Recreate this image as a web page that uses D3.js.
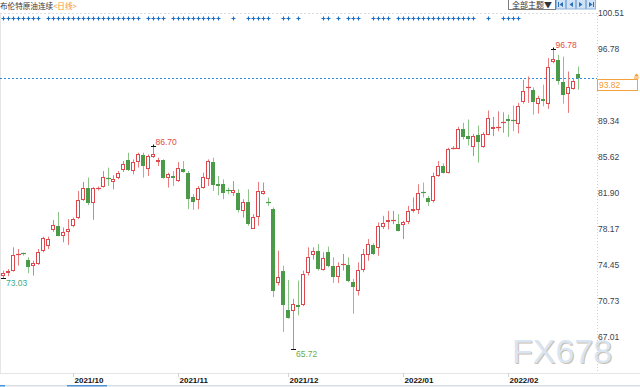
<!DOCTYPE html>
<html>
<head>
<meta charset="utf-8">
<script src="https://cdn.jsdelivr.net/npm/d3@7"></script>
<style>
  body { margin: 0; background: #fff; }
  svg { display: block; font-family: "Liberation Sans", Arial, sans-serif; }
</style>
</head>
<body>
<svg id="chart" width="640" height="387"></svg>
<script>
// daily candles, Brent continuous
const opens = [
  73.26, 73.57, 73.84, 75.43, 75.63, 74.98, 74.32, 74.50, 75.84, 76.42,
  78.04, 78.48, 77.45, 77.79, 78.42, 79.24, 81.20, 82.44, 80.89, 82.26,
  82.54, 83.40, 83.06, 83.47, 84.22, 85.25, 84.15, 85.08, 85.80, 84.40,
  85.63, 85.08, 85.25, 83.47, 83.64, 83.12, 84.32, 83.98, 81.51, 81.16,
  82.44, 83.36, 85.08, 82.78, 82.78, 82.16, 81.92, 81.92, 80.03, 80.95,
  78.20, 79.41, 81.82, 80.95, 80.27, 72.57, 73.84, 69.72, 69.65, 70.23,
  70.23, 73.57, 75.46, 75.84, 73.95, 75.80, 74.29, 73.22, 74.48, 74.43,
  72.71, 71.78, 73.95, 75.46, 76.49, 76.15, 78.31, 78.89, 79.05, 78.65,
  78.55, 78.83, 80.00, 80.13, 81.94, 81.37, 81.06, 83.64, 84.71, 83.98,
  86.50, 86.46, 88.52, 87.76, 86.66, 87.83, 86.66, 87.93, 88.45, 88.71,
  89.18, 89.55, 89.40, 89.03, 91.26, 92.83, 92.50, 91.10, 91.61, 91.10,
  95.39, 95.66, 93.37, 92.13, 92.64, 94.22
];
const highs = [
  73.84, 74.00, 76.25, 76.08, 75.70, 75.22, 74.87, 76.08, 77.35, 77.35,
  79.07, 79.92, 78.31, 79.17, 79.34, 82.09, 83.02, 83.47, 82.50, 82.55,
  84.15, 84.50, 83.71, 84.15, 85.18, 86.05, 85.36, 86.05, 86.05, 85.87,
  86.70, 85.53, 85.36, 83.98, 84.15, 85.08, 85.18, 84.15, 81.75, 82.60,
  83.98, 85.36, 85.53, 83.64, 83.29, 82.44, 83.12, 82.26, 81.23, 82.26,
  79.69, 83.02, 82.95, 81.41, 80.38, 75.90, 74.36, 72.88, 70.92, 72.81,
  73.84, 76.25, 76.25, 76.59, 75.74, 76.32, 75.22, 74.70, 75.56, 75.22,
  72.98, 74.70, 76.08, 77.11, 76.66, 78.83, 79.51, 80.03, 80.03, 79.69,
  79.00, 80.54, 81.41, 82.78, 82.95, 81.57, 83.98, 85.18, 84.94, 86.56,
  86.73, 88.73, 89.14, 89.48, 88.00, 88.86, 88.17, 90.41, 89.76, 90.33,
  90.23, 90.00, 90.92, 91.20, 93.60, 93.94, 92.81, 91.95, 93.09, 95.84,
  96.78, 96.18, 96.00, 94.46, 93.78, 94.97
];
const lows = [
  73.03, 73.26, 73.74, 74.36, 75.40, 73.57, 73.33, 74.43, 75.74, 76.08,
  77.86, 77.38, 76.77, 76.49, 78.31, 79.17, 81.06, 80.61, 79.10, 82.15,
  82.44, 82.60, 82.26, 83.29, 84.05, 84.15, 83.81, 84.50, 83.47, 83.64,
  85.50, 84.67, 83.37, 82.44, 82.60, 83.02, 83.98, 80.20, 80.13, 80.20,
  82.33, 82.60, 82.09, 81.64, 81.23, 81.75, 81.57, 79.86, 79.34, 78.48,
  78.14, 78.48, 81.70, 80.54, 71.10, 72.30, 67.49, 68.86, 65.72, 69.20,
  70.17, 73.33, 74.98, 73.84, 73.84, 74.19, 72.57, 72.55, 73.84, 72.64,
  69.38, 71.26, 73.67, 74.87, 75.46, 75.39, 78.14, 78.10, 78.65, 77.90,
  77.11, 78.65, 79.86, 79.69, 81.41, 80.54, 80.89, 83.55, 83.90, 83.90,
  86.39, 86.39, 87.42, 86.80, 85.70, 85.02, 86.56, 87.85, 87.76, 88.27,
  88.11, 87.69, 88.27, 88.04, 91.13, 91.20, 89.99, 90.10, 90.85, 90.58,
  95.30, 93.09, 91.13, 90.17, 92.57, 92.57
];
const closes = [
  73.57, 73.78, 75.46, 75.56, 75.55, 74.19, 74.60, 75.74, 77.18, 77.11,
  78.52, 77.38, 77.79, 78.20, 79.14, 81.20, 82.44, 80.82, 82.37, 82.44,
  83.57, 83.34, 83.29, 83.98, 84.84, 84.22, 85.08, 85.87, 84.67, 85.70,
  85.87, 85.29, 83.47, 83.81, 83.47, 84.50, 84.08, 81.30, 80.95, 82.44,
  83.57, 85.18, 82.67, 82.60, 81.92, 82.10, 82.16, 80.10, 80.95, 78.65,
  79.34, 82.09, 82.09, 80.89, 71.78, 73.16, 70.23, 68.93, 70.41, 70.06,
  73.50, 75.22, 75.84, 74.02, 75.15, 74.29, 73.22, 74.29, 74.52, 72.81,
  72.13, 73.91, 75.53, 76.56, 75.53, 78.48, 78.76, 79.10, 79.09, 77.96,
  78.83, 80.03, 80.17, 81.92, 81.90, 80.95, 83.64, 84.67, 83.98, 86.39,
  86.54, 88.52, 87.65, 87.42, 87.76, 87.14, 88.00, 89.65, 88.73, 88.75,
  89.22, 89.30, 89.36, 90.92, 92.40, 92.87, 91.26, 91.72, 91.37, 94.97,
  95.74, 93.43, 91.98, 92.81, 93.50, 93.82
];
// candles that carry a news/event flag in the top strip
const eventIdx = [
  0, 1, 2, 3, 4, 5, 6, 7,
  9, 10, 11, 12, 13, 14, 15, 16, 17, 18, 19, 20, 21, 22, 23, 24, 25, 26, 27,
  29, 30, 31, 32,
  34, 35, 36, 37, 38, 39, 40, 41, 42, 43,
  46, 49, 50, 51, 52, 53, 56, 57, 59, 64, 65, 67, 69, 70, 71,
  74, 75, 76, 77,
  79, 80, 81, 82, 83, 84, 85, 86, 87, 88, 89, 90, 91, 92, 93, 94,
  97, 100, 101, 102, 103
];
const yTicks = [100.51, 96.78, 93.06, 89.34, 85.62, 81.90, 78.17, 74.45, 70.73, 67.01];
const highMarks = [30, 110];
const lowMarks = [0, 58];
const lastPrice = closes[closes.length - 1];
const startDay = new Date(2021, 8, 13);

const n = closes.length;
const dates = [];
for (let d = new Date(startDay); dates.length < n; d.setDate(d.getDate() + 1)) {
  if (d.getDay() !== 0 && d.getDay() !== 6) dates.push(new Date(d));
}
const monthStarts = d3.range(1, n).filter(i => dates[i].getMonth() !== dates[i - 1].getMonth());
const fmtMonth = d3.timeFormat("%Y/%m");

const svg = d3.select("#chart");
const axisX = 597, plotBottom = 373;

const x = d3.scaleBand().domain(d3.range(n)).range([0.5, 580.5]);
const y = d3.scaleLinear().domain([67.01, 100.51]).range([336.6, 13]);
const cx = i => x(i) + 3;

const RED = "#e0474c", RED_WICK = "#e87c7c";
const GREEN = "#4a9a48", GREEN_WICK = "#8cc389";

// title + toolbar
const title = svg.append("text").attr("x", 0).attr("y", 8.5)
  .style("font-family", "'Noto Sans CJK SC', sans-serif").style("font-size", "7.6px");
title.append("tspan").attr("fill", "#333").text("布伦特原油连续");
title.append("tspan").attr("fill", "#f7931e").text("<日线>");

svg.append("rect").attr("x", 508.5).attr("y", -0.5).attr("width", 47).attr("height", 10)
  .attr("fill", "#fff").attr("stroke", "#7d7d7d");
svg.append("text").attr("x", 512).attr("y", 8)
  .style("font-family", "'Noto Sans CJK SC', sans-serif").style("font-size", "8px")
  .attr("fill", "#333").text("全部主题▼");

const btns = svg.append("g");
d3.range(4).forEach(k => {
  const bx = 556.5 + k * 10;
  btns.append("rect").attr("x", bx).attr("y", -0.5).attr("width", 9).attr("height", 9.5)
    .attr("fill", "#cfe2f6").attr("stroke", "#8fb5de");
  const mid = bx + 4.5;
  const left = k < 2;
  const tri = left ? `M${mid + 2},2 L${mid - 1.5},4.5 L${mid + 2},7 Z` : `M${mid - 2},2 L${mid + 1.5},4.5 L${mid - 2},7 Z`;
  btns.append("path").attr("d", tri).attr("fill", "#2f6fb4");
  if (k === 0 || k === 3) {
    const bar = left ? mid - 2.5 : mid + 2.5;
    btns.append("line").attr("x1", bar).attr("x2", bar).attr("y1", 2).attr("y2", 7)
      .attr("stroke", "#2f6fb4");
  }
});

// watermark
const wm = svg.append("g").style("font-family", "'Liberation Sans', Arial, sans-serif")
  .style("font-size", "34px");
wm.append("text").attr("x", 513).attr("y", 364).attr("fill", "#cdbfae").text("FX678");
wm.append("text").attr("x", 512).attr("y", 363).attr("fill", "#d9e5f2").text("FX678");

// frame
svg.append("line").attr("x1", 0.5).attr("x2", 0.5).attr("y1", 13).attr("y2", plotBottom)
  .attr("stroke", "#e6e6e6");
svg.append("line").attr("x1", 0).attr("x2", axisX).attr("y1", 13.5).attr("y2", 13.5)
  .attr("stroke", "#dcdcdc").attr("stroke-dasharray", "2,2");
svg.append("line").attr("x1", 0).attr("x2", 640).attr("y1", plotBottom + 0.5).attr("y2", plotBottom + 0.5)
  .attr("stroke", "#e4e4e4");

// event flags
const ev = svg.append("g").attr("stroke", "#1f6fc5").attr("stroke-width", 1.1);
eventIdx.forEach(i => {
  ev.append("line").attr("x1", cx(i) - 2).attr("x2", cx(i) + 2).attr("y1", 18.5).attr("y2", 18.5);
  ev.append("line").attr("x1", cx(i)).attr("x2", cx(i)).attr("y1", 16.5).attr("y2", 20.5);
});

// y axis on the right
const yAxis = svg.append("g").attr("transform", `translate(${axisX},0)`)
  .call(d3.axisRight(y).tickValues(yTicks).tickSize(0).tickPadding(1).tickFormat(d3.format(".2f")));
yAxis.select(".domain").remove();
yAxis.selectAll("text").attr("fill", "#3a4250").style("font-size", "8.5px")
  .style("font-family", "'Liberation Sans', Arial, sans-serif");
svg.append("line").attr("x1", axisX + 0.5).attr("x2", axisX + 0.5).attr("y1", 13).attr("y2", plotBottom)
  .attr("stroke", "#d0d0d0").attr("stroke-dasharray", "1,2");

// x axis
const xAxis = svg.append("g").attr("transform", `translate(0,${plotBottom})`)
  .call(d3.axisBottom(x).tickValues(monthStarts).tickSize(4).tickFormat(i => fmtMonth(dates[i])));
xAxis.select(".domain").remove();
xAxis.selectAll(".tick").attr("transform", i => `translate(${Math.round(cx(i)) - 0.5},0)`);
xAxis.selectAll(".tick line").attr("stroke", "#d4d4d4");
xAxis.selectAll(".tick text").attr("text-anchor", "start").attr("x", 1).attr("y", 10).attr("dy", null)
  .attr("fill", "#111").style("font-size", "8px").style("font-weight", "bold")
  .style("font-family", "'Liberation Sans', Arial, sans-serif");

// scrollbar strip at the very bottom
svg.append("rect").attr("x", 0).attr("y", 385).attr("width", 640).attr("height", 1.5).attr("fill", "#d8dfe8");
svg.append("rect").attr("x", 0).attr("y", 385).attr("width", 5).attr("height", 1.5).attr("fill", "#4f93d8");
svg.append("rect").attr("x", 67).attr("y", 385).attr("width", 40).attr("height", 1.5).attr("fill", "#4f93d8");

// last price line
const yLast = Math.round(y(lastPrice)) + 0.5;
svg.append("line").attr("x1", 0).attr("x2", axisX).attr("y1", yLast).attr("y2", yLast)
  .attr("stroke", "#2a8ae2").attr("stroke-dasharray", "2,2");

// candles
const candles = d3.range(n).map(i => ({
  i, o: opens[i], h: highs[i], l: lows[i], c: closes[i], up: closes[i] >= opens[i]
}));
const cg = svg.append("g");
candles.forEach(d => {
  const xc = cx(d.i);
  const top = Math.round(y(Math.max(d.o, d.c)));
  const bot = Math.round(y(Math.min(d.o, d.c)));
  cg.append("line").attr("x1", xc).attr("x2", xc)
    .attr("y1", y(d.h)).attr("y2", y(d.l))
    .attr("stroke", d.up ? RED_WICK : GREEN_WICK);
  if (bot - top < 2) {
    cg.append("line").attr("x1", x(d.i) + 0.5).attr("x2", x(d.i) + 5.5)
      .attr("y1", top + 0.5).attr("y2", top + 0.5)
      .attr("stroke", d.up ? RED : GREEN).attr("stroke-width", 1.2);
  } else if (d.up) {
    cg.append("rect").attr("x", x(d.i) + 1).attr("y", top + 0.5)
      .attr("width", 3).attr("height", bot - top - 1)
      .attr("fill", "#fff").attr("stroke", RED);
  } else {
    cg.append("rect").attr("x", x(d.i) + 0.5).attr("y", top)
      .attr("width", 4).attr("height", bot - top)
      .attr("fill", GREEN);
  }
});

// extreme markers and their labels
const mk = svg.append("g").style("font-size", "8.5px")
  .style("font-family", "'Liberation Sans', Arial, sans-serif");
highMarks.forEach(i => {
  const xc = cx(i), yy = Math.round(y(highs[i])) + 0.5;
  mk.append("line").attr("x1", xc - 2.5).attr("x2", xc + 2.5).attr("y1", yy).attr("y2", yy).attr("stroke", "#111");
  mk.append("line").attr("x1", xc).attr("x2", xc).attr("y1", yy - 2).attr("y2", yy).attr("stroke", "#111");
  mk.append("text").attr("x", xc + 2).attr("y", yy - 4).attr("dy", "0.35em")
    .attr("fill", "#e0474c").text(highs[i].toFixed(2));
});
const lowColors = ["#3aa98a", "#68ab4c"];
lowMarks.forEach((i, k) => {
  const xc = cx(i), yy = Math.round(y(lows[i])) + 0.5;
  mk.append("line").attr("x1", xc - 2.5).attr("x2", xc + 2.5).attr("y1", yy).attr("y2", yy).attr("stroke", "#111");
  mk.append("text").attr("x", xc + 2.5).attr("y", yy + 5).attr("dy", "0.35em")
    .attr("fill", lowColors[k]).text(lows[i].toFixed(2));
});

// last price tag
svg.append("rect").attr("x", axisX + 0.5).attr("y", 79.5).attr("width", 40).attr("height", 11)
  .attr("fill", "#fff").attr("stroke", "#f5a13e");
svg.append("text").attr("x", axisX + 2).attr("y", 85).attr("dy", "0.35em")
  .attr("fill", "#f39a2e").style("font-size", "8.5px").text(lastPrice.toFixed(2));
svg.append("path").attr("d", "M634,76.5 L636.5,73.5 L639,76.5 Z").attr("fill", "#f39a2e");
svg.append("line").attr("x1", 634).attr("x2", 639).attr("y1", 78).attr("y2", 78).attr("stroke", "#f39a2e");
</script>
</body>
</html>
